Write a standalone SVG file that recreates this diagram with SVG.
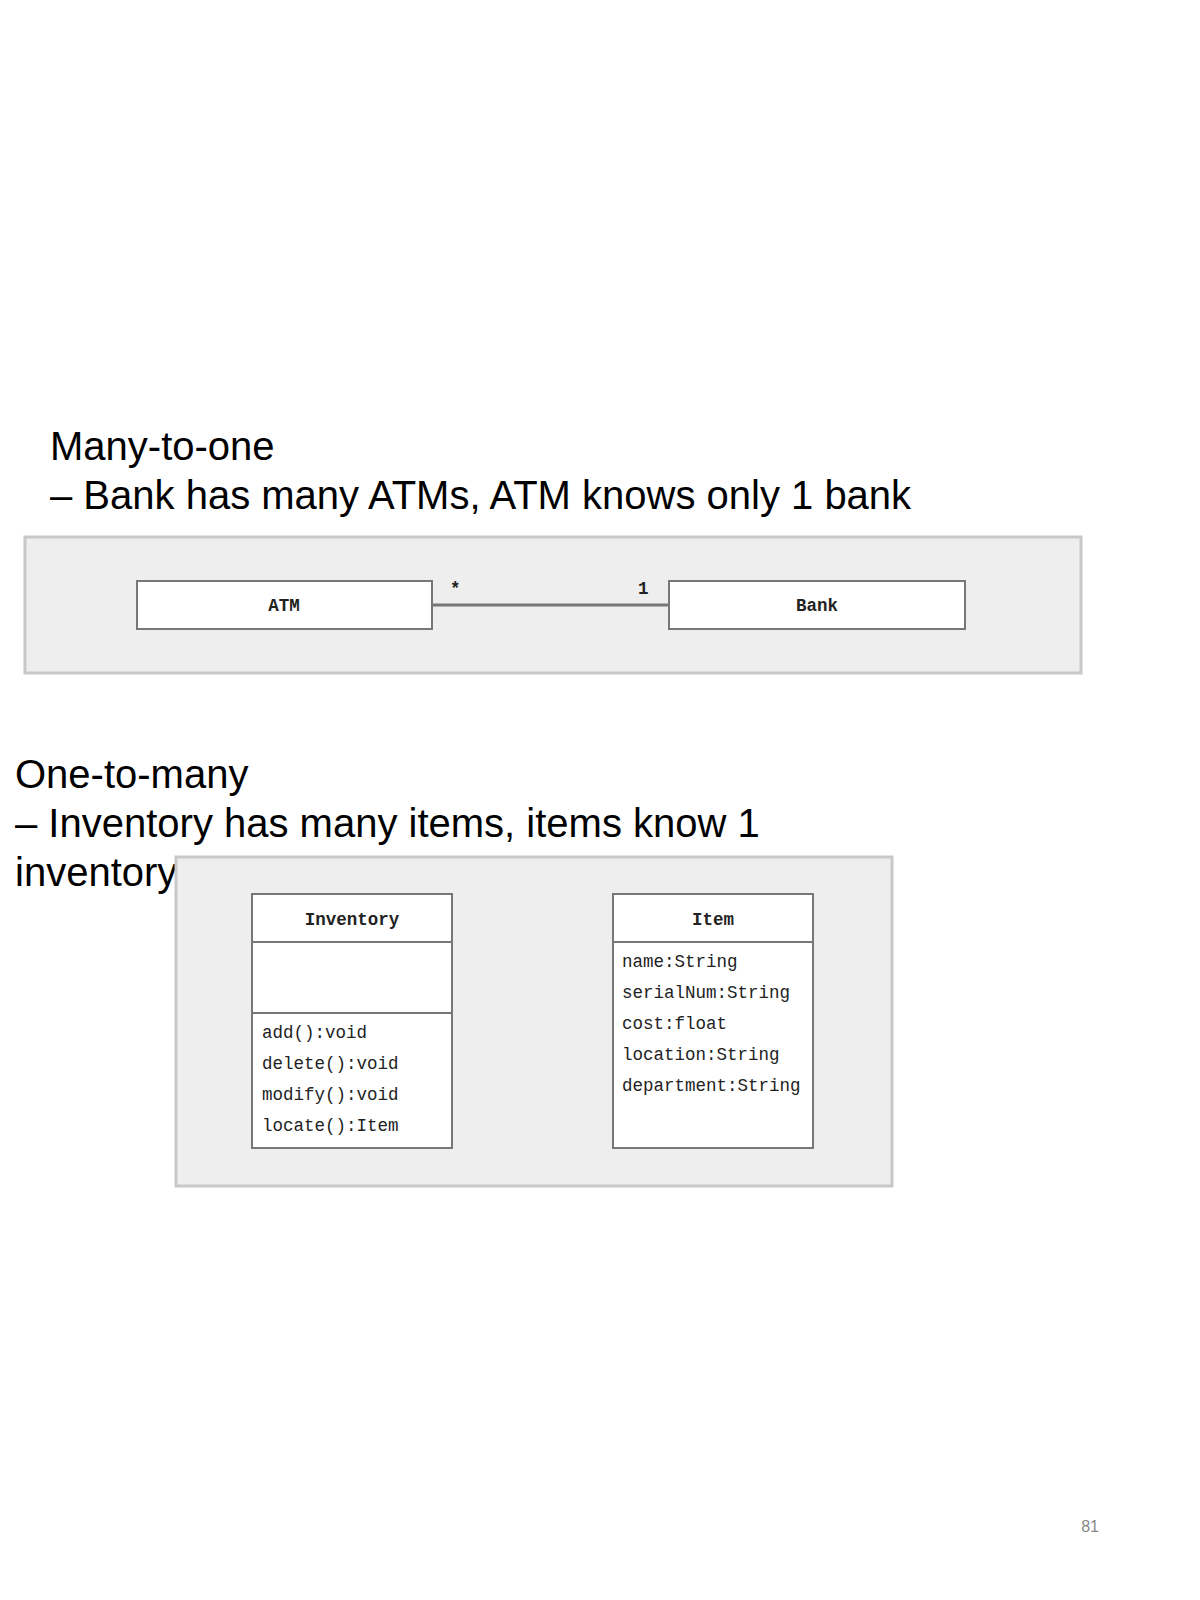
<svg xmlns="http://www.w3.org/2000/svg" width="1200" height="1600" viewBox="0 0 1200 1600">
<style>
.h{font-family:"Liberation Sans",Arial,sans-serif;font-size:40px;fill:#000}
.panel{fill:#eeeeee;stroke:#c8c8c8;stroke-width:3}
.box{fill:#fff;stroke:#777;stroke-width:2}
.t{font-family:"Liberation Mono","DejaVu Sans Mono",monospace;font-size:17.5px;fill:#222}
.b{font-weight:bold;text-anchor:middle}
.m{font-family:"Liberation Mono",monospace;font-size:16px;fill:#555}
.c{stroke:#777;stroke-width:3;fill:none}
</style>
<rect width="1200" height="1600" fill="#fff"/>
<text class="h" x="50" y="460">Many-to-one</text>
<text class="h" x="50" y="509">– Bank has many ATMs, ATM knows only 1 bank</text>
<rect class="panel" x="25" y="537" width="1056" height="136"/>
<g id="atm"><rect class="box" x="137" y="581" width="295" height="48"/><text class="t b" x="284" y="611">ATM</text></g>
<g id="bank"><rect class="box" x="669" y="581" width="296" height="48"/><text class="t b" x="817" y="611">Bank</text></g>
<g id="connectors">
<line class="c" x1="432" y1="605" x2="669" y2="605"/>
<text class="t" x="450" y="594" font-weight="bold">*</text>
<text class="t" x="638" y="594" font-weight="bold">1</text>
<line class="c" x1="452" y1="1024" x2="613" y2="1024"/>
<text class="m" x="466" y="1011">1</text>
<text class="m" x="586" y="1005" font-weight="bold">*</text>
</g>
<text class="h" x="15" y="788">One-to-many</text>
<text class="h" x="15" y="837">– Inventory has many items, items know 1</text>
<text class="h" x="15" y="886">inventory</text>
<rect class="panel" x="176" y="857" width="716" height="329"/>
<g id="inventory">
<rect class="box" x="252" y="894" width="200" height="254"/>
<line class="box" x1="252" y1="942" x2="452" y2="942"/>
<line class="box" x1="252" y1="1013" x2="452" y2="1013"/>
<text class="t b" x="352" y="925">Inventory</text>
<text class="t" x="262" y="1038">add():void</text>
<text class="t" x="262" y="1069">delete():void</text>
<text class="t" x="262" y="1100">modify():void</text>
<text class="t" x="262" y="1131">locate():Item</text>
</g>
<g id="item">
<rect class="box" x="613" y="894" width="200" height="254"/>
<line class="box" x1="613" y1="942" x2="813" y2="942"/>
<text class="t b" x="713" y="925">Item</text>
<text class="t" x="622" y="967">name:String</text>
<text class="t" x="622" y="998">serialNum:String</text>
<text class="t" x="622" y="1029">cost:float</text>
<text class="t" x="622" y="1060">location:String</text>
<text class="t" x="622" y="1091">department:String</text>
</g>
<text x="1099" y="1532" font-family="Liberation Sans,sans-serif" font-size="16" fill="#888" text-anchor="end">81</text>
</svg>
